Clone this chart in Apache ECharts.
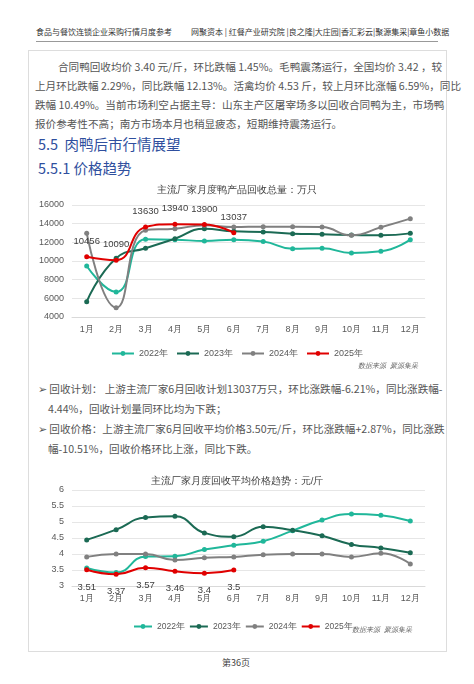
<!DOCTYPE html>
<html><head><meta charset="utf-8">
<script src="https://cdn.jsdelivr.net/npm/echarts@6/dist/echarts.min.js"></script>
<style>
body{margin:0;background:#fff;font-family:"Noto Sans CJK SC",sans-serif;}
#page{position:relative;width:474px;height:684px;overflow:hidden;}
.t{position:absolute;white-space:nowrap;color:#444;}
.p{font-size:10.6px;color:#555;left:35px;}
#box{position:absolute;left:28px;top:50px;width:417px;height:600px;border:1px solid #ddd;}
#c{position:absolute;left:0;top:0;width:474px;height:684px;}
</style></head><body>
<div id="page">
<div class="t" style="left:36px;top:26px;font-size:8px;color:#333">食品与餐饮连锁企业采购行情月度参考</div>
<div class="t" style="left:191px;top:26px;font-size:8px;color:#333">网聚资本 | 红餐产业研究院 |良之隆|大庄园|香汇彩云|聚源集采|章鱼小数据</div>
<div style="position:absolute;left:36px;top:41px;width:402px;border-top:1px solid #999"></div>
<div id="box"></div>
<div class="t p" style="left:58px;top:59px">合同鸭回收均价 3.40 元/斤，环比跌幅 1.45%。毛鸭震荡运行，全国均价 3.42 ，较</div>
<div class="t p" style="top:78px">上月环比跌幅 2.29%，同比跌幅 12.13%。活禽均价 4.53 斤，较上月环比涨幅 6.59%，同比</div>
<div class="t p" style="top:97px">跌幅 10.49%。当前市场利空占据主导：山东主产区屠宰场多以回收合同鸭为主，市场鸭</div>
<div class="t p" style="top:116px">报价参考性不高；南方市场本月也稍显疲态，短期维持震荡运行。</div>
<div class="t" style="left:38px;top:133px;font-size:14.5px;color:#2f4f9e">5.5&nbsp; 肉鸭后市行情展望</div>
<div class="t" style="left:38px;top:157px;font-size:14.5px;color:#2f4f9e">5.5.1 价格趋势</div>
<div class="t p" style="left:38px;top:381px">➢ 回收计划：&nbsp;上游主流厂家6月回收计划13037万只，环比涨跌幅-6.21%，同比涨跌幅-</div>
<div class="t p" style="left:48px;top:401px">4.44%，回收计划量同环比均为下跌；</div>
<div class="t p" style="left:38px;top:421px">➢ 回收价格：上游主流厂家6月回收平均价格3.50元/斤，环比涨跌幅+2.87%，同比涨跌</div>
<div class="t p" style="left:48px;top:441px">幅-10.51%，回收价格环比上涨，同比下跌。</div>
<div class="t" style="left:222px;top:656px;font-size:9px;color:#444">第36页</div>
<div id="c"></div>
</div>
<script>
const months=['1月','2月','3月','4月','5月','6月','7月','8月','9月','10月','11月','12月'];
const years=['2022年','2023年','2024年','2025年'];
const colors=['#20b79a','#1b6a54','#808080','#e00000'];
const vol2022=[9460,6680,12320,12290,12140,12290,12100,11320,11360,10860,11040,12290];
const vol2023=[5640,10290,11360,12390,13460,13180,13110,12930,12860,12790,12750,12960];
const vol2024=[12960,5000,13290,13460,13820,13640,13680,13680,13640,12750,13610,14540];
const vol2025=[10456,10090,13630,13940,13900,13037];
const pr2022=[3.56,3.42,3.92,3.93,4.14,4.27,4.40,4.73,5.06,5.25,5.21,5.03];
const pr2023=[4.44,4.76,5.14,5.18,4.66,4.54,4.85,4.74,4.57,4.30,4.19,4.04];
const pr2024=[3.91,4.0,4.0,3.81,3.88,3.91,3.98,4.0,4.0,3.91,4.02,3.69];
const pr2025=[3.51,3.37,3.57,3.46,3.4,3.5];
const ch=echarts.init(document.getElementById('c'));
const ax={color:'#595959',fontSize:9};
function ser(name,data,i,g,lab){
 const s={name,type:'line',data,xAxisIndex:g,yAxisIndex:g,smooth:true,symbol:'circle',symbolSize:5,
  itemStyle:{color:colors[i]},lineStyle:{width:2,color:colors[i]},z:i+2};
 if(lab)s.label={show:true,position:lab,color:'#404040',fontSize:9.5,distance:lab==='top'?8:10};
 return s;
}
ch.setOption({
 animation:false,
 title:[{text:'主流厂家月度鸭产品回收总量：万只',left:'center',top:180,textStyle:{fontSize:9.5,fontWeight:'normal',color:'#404040'}},
  {text:'主流厂家月度回收平均价格趋势：元/斤',left:'center',top:471,textStyle:{fontSize:9.5,fontWeight:'normal',color:'#404040'}}],
 graphic:[{type:'text',left:358,top:363,style:{text:'数据来源  聚源集采',fontSize:7,fill:'#666',fontStyle:'italic'}},
  {type:'text',left:352,top:627,style:{text:'数据来源  聚源集采',fontSize:7,fill:'#666',fontStyle:'italic'}}],
 legend:[{data:years,top:344,left:'center',itemWidth:22,itemHeight:6,textStyle:{fontSize:9,color:'#595959'}},
  {data:years,top:617,left:128,itemGap:4,itemWidth:18,itemHeight:6,textStyle:{fontSize:8.5,color:'#595959'}}],
 grid:[{left:72,right:49,top:205,height:112},{left:72,right:49,top:490,height:96}],
 xAxis:[0,1].map(g=>({type:'category',data:months,gridIndex:g,axisTick:{show:false},axisLine:{lineStyle:{color:'#d9d9d9'}},axisLabel:ax})),
 yAxis:[{type:'value',gridIndex:0,min:4000,max:16000,interval:2000,axisLabel:Object.assign({formatter:v=>String(v)},ax),splitLine:{lineStyle:{color:'#e6e6e6'}}},
  {type:'value',gridIndex:1,min:3,max:6,interval:0.5,axisLabel:ax,splitLine:{lineStyle:{color:'#e6e6e6'}}}],
 series:[ser(years[0],vol2022,0,0),ser(years[1],vol2023,1,0),ser(years[2],vol2024,2,0),ser(years[3],vol2025,3,0,'top'),
  ser(years[0],pr2022,0,1),ser(years[1],pr2023,1,1),ser(years[2],pr2024,2,1),ser(years[3],pr2025,3,1,'bottom')]
});
</script></body></html>
